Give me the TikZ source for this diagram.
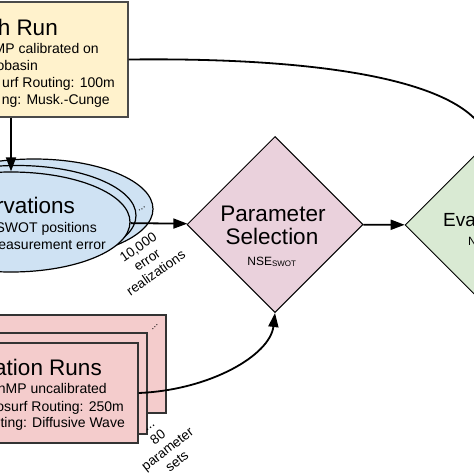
\documentclass[tikz,border=0pt]{standalone}
\usepackage{fontspec}
\setmainfont{Liberation Sans}
\usetikzlibrary{shapes.geometric,arrows.meta}
\definecolor{truthfill}{HTML}{FFF2CC}
\definecolor{obsfill}{HTML}{CFE2F3}
\definecolor{simfill}{HTML}{F4CCCC}
\definecolor{selfill}{HTML}{EAD1DC}
\definecolor{evalfill}{HTML}{D9EAD3}
\definecolor{boxline}{HTML}{4A4A4A}
\begin{document}
\begin{tikzpicture}[x=1pt,y=-1pt,
  bigtxt/.style={font=\fontsize{22.5}{26}\selectfont, inner sep=0},
  bodytxt/.style={font=\fontsize{14}{17}\selectfont, inner sep=0, anchor=base east},
  labeltxt/.style={font=\fontsize{13.5}{15.5}\selectfont, inner sep=0, align=center},
  dotstxt/.style={font=\fontsize{10}{12}\selectfont, inner sep=0},
  truthbox/.style={draw=boxline, line width=1.4pt, fill=truthfill, minimum width=234pt, minimum height=115pt, inner sep=0},
  obsell/.style={ellipse, draw=black, line width=1.2pt, fill=obsfill, minimum width=238pt, minimum height=100pt, inner sep=0},
  simbox/.style={draw=black!80, line width=1.2pt, fill=simfill, minimum width=250pt, inner sep=0},
  decision/.style={diamond, aspect=1, draw=black, line width=1pt, inner sep=0},
  conn/.style={line width=1.8pt, -{Triangle[length=14pt,width=10pt]}}]
\useasboundingbox (0,0) rectangle (474,474);

% truth run box
\node[truthbox] (tb) at (11,59.5) {};
\node[bigtxt, anchor=base east] (t1) at (58,35) {h Run};
\node[bodytxt] (t2) at (99,53) {MP calibrated on};
\node[bodytxt] (t3) at (38,70) {obasin};
\node[bodytxt] (t4) at (115,87) {urf Routing: 100m};
\node[bodytxt] (t5) at (110,104) {ng: Musk.-Cunge};

% observations ellipses
\node[obsell] (obs3) at (34,209) {};
\node[obsell] (obs2) at (17,215.5) {};
\node[obsell] (obs1) at (11,222) {};
\node[bigtxt, anchor=base east] (o1) at (75,213) {rvations};
\node[bodytxt] (o2) at (97,232) {SWOT positions};
\node[bodytxt] (o3) at (106,249) {easurement error};
\node[dotstxt, rotate=30] (d1) at (142,209) {...};

% simulation run boxes
\node[simbox, minimum height=98pt] (sim3) at (41,364) {};
\node[simbox, minimum height=101pt] (sim2) at (22,383.5) {};
\node[simbox, minimum height=100pt] (sim1) at (13,393) {};
\node[bigtxt, anchor=base east] (s1) at (102,375) {ation Runs};
\node[bodytxt] (s2) at (107,393) {nMP uncalibrated};
\node[bodytxt] (s3) at (124,411) {osurf Routing: 250m};
\node[bodytxt] (s4) at (125,427) {ting: Diffusive Wave};
\node[dotstxt, rotate=45] (d2) at (155,327) {...};

% decisions
\node[decision, fill=selfill, minimum width=176pt, minimum height=176pt] (ps) at (275,224.5) {};
\node[bigtxt, anchor=base] (p1) at (273,221) {Parameter};
\node[bigtxt, anchor=base] (p2) at (272,244) {Selection};
\node[inner sep=0, anchor=base, font=\fontsize{12}{14}\selectfont] (p3) at (272,265) {NSE\textsubscript{SWOT}};

\node[decision, fill=evalfill, minimum width=170pt, minimum height=170pt] (ev) at (490,225) {};
\node[inner sep=0, anchor=base west, font=\fontsize{19}{22}\selectfont] (e1) at (443,226) {Eva};
\node[inner sep=0, anchor=base west, font=\fontsize{12}{14}\selectfont] (e2) at (468,245) {N};

% labels
\node[labeltxt, rotate=35] (l1) at (147,260) {10,000\\error\\realizations};
\node[labeltxt, rotate=38] (l2) at (165,446) {...\\80\\parameter\\sets};

% connectors
\draw[conn] (tb) -- (obs1);
\draw[conn] (obs1) -- (ps);
\draw[conn] (ps) -- (ev);
\draw[conn] (tb.east) .. controls +(172,-2) and +(-42,-64) .. (ev.north);
\draw[conn] (sim1.east) .. controls +(72,-3) and +(-5,42) .. (ps.south);
\end{tikzpicture}
\end{document}
